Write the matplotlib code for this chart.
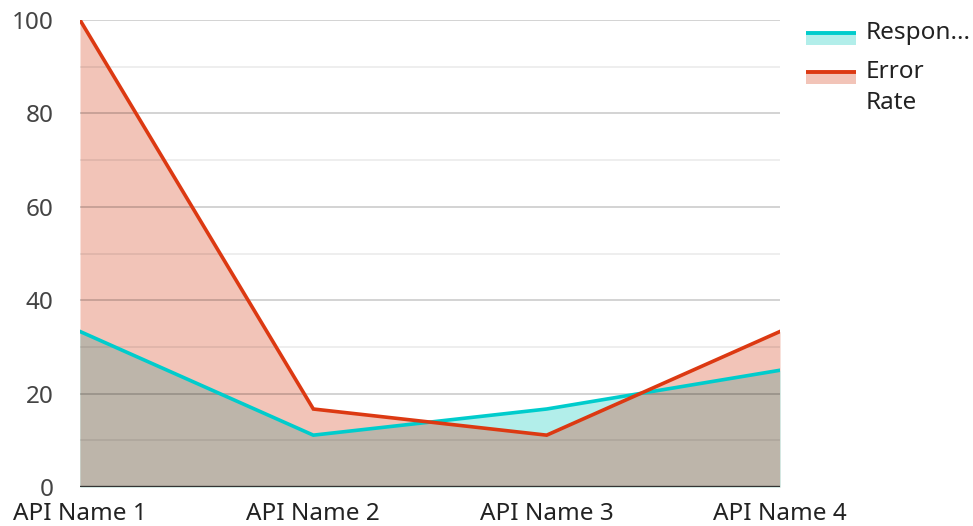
import matplotlib
matplotlib.use("Agg")
import matplotlib.pyplot as plt
from matplotlib.patches import Rectangle
from matplotlib.lines import Line2D
import numpy as np

categories = ["API Name 1", "API Name 2", "API Name 3", "API Name 4"]
response_time = [33.3, 11.1, 16.7, 25.0]
error_rate = [100.0, 16.7, 11.1, 33.3]
series_names = ["Respon...", "Error\nRate"]
y_ticks = [0, 20, 40, 60, 80, 100]

plt.rcParams['font.family'] = ['Noto Sans', 'DejaVu Sans']

CYAN = "#00cccc"
CYAN_FILL = "#b2eeea"
RED = "#dc3912"
RED_FILL = "#f2c4b8"
OVERLAP = "#bdb5aa"
FS = 17.5

fig = plt.figure(figsize=(9.73, 5.26), dpi=100)
W, H = 973, 526
ax = fig.add_axes([80 / W, 1 - 487 / H, 700 / W, 467 / H])

x = np.arange(len(categories))

# Fills
pe = ax.fill_between(x, 0, error_rate, color=RED_FILL, lw=0, zorder=1)
ax.fill_between(x, 0, response_time, color=CYAN_FILL, lw=0, zorder=1.1)
ov = ax.fill_between(x, 0, response_time, color=OVERLAP, lw=0, zorder=1.2)
ov.set_clip_path(pe.get_paths()[0], ax.transData)

# Grid on top of fills (semi-transparent)
for v in range(10, 100, 20):
    ax.axhline(v, color="black", alpha=0.08, lw=1.2, zorder=2)
for v in y_ticks[1:]:
    ax.axhline(v, color="black", alpha=0.2, lw=1.2, zorder=2)

ax.plot(x, response_time, color=CYAN, lw=2.6, zorder=3, solid_joinstyle="miter")
ax.plot(x, error_rate, color=RED, lw=2.6, zorder=4, solid_joinstyle="miter")

ax.axhline(0, color="#333333", lw=2.4, zorder=5)

ax.set_xlim(0, 3)
ax.set_ylim(0, 100)
ax.set_xticks(x)
ax.set_xticklabels(categories, fontsize=FS, color="#222222")
ax.set_yticks(y_ticks)
ax.set_yticklabels([str(v) for v in y_ticks], fontsize=FS, color="#444444")
ax.tick_params(length=0)
ax.tick_params(axis="y", pad=19)
ax.tick_params(axis="x", pad=11)
for s in ax.spines.values():
    s.set_visible(False)

# Legend drawn manually
def px(xp, yp):
    return xp / W, 1 - yp / H

legend_items = [(CYAN, CYAN_FILL, 33, [(series_names[0], 33)]),
                (RED, RED_FILL, 72, [("Error", 72), ("Rate", 103)])]
for lc, fc, ly, texts in legend_items:
    x0, y0 = px(806, ly + 12)
    w = 50 / W
    h = 12 / H
    fig.add_artist(Rectangle((x0, y0), w, h, transform=fig.transFigure,
                             facecolor=fc, edgecolor="none"))
    lx0, lyy = px(806, ly)
    lx1, _ = px(856, ly)
    fig.add_artist(Line2D([lx0, lx1], [lyy, lyy], transform=fig.transFigure,
                          color=lc, lw=2.8, solid_capstyle="butt"))
    for t, ty in texts:
        tx, tyy = px(866, ty)
        fig.text(tx, tyy, t, fontsize=FS, color="#222222", va="center", ha="left")

fig.savefig("out.png", dpi=100)
